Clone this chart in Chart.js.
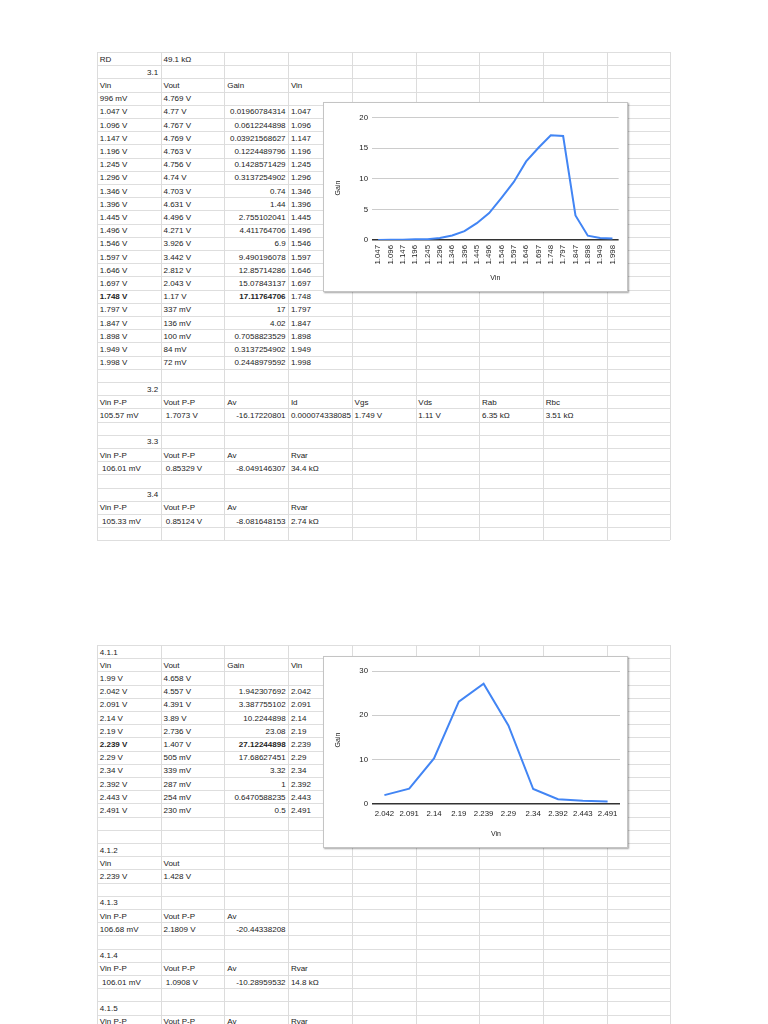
<!DOCTYPE html>
<html>
<head>
<meta charset="utf-8">
<script src="https://cdn.jsdelivr.net/npm/chart.js@4.4.1/dist/chart.umd.min.js"></script>
<style>
  html, body { margin:0; padding:0; background:#fff; }
  body { width:768px; height:1024px; position:relative; overflow:hidden;
         font-family:"Liberation Sans", Arial, sans-serif; }
  .grid { position:absolute; left:0; top:0; width:768px; }
  .hl { position:absolute; height:1px; background:#dedede; }
  .vl { position:absolute; width:1px; background:#dcdcdc; }
  .cell { position:absolute; white-space:pre; font-size:8px; color:#222; overflow:visible; }
  .cell.b { font-weight:bold; }
  .box { position:absolute; box-sizing:border-box; background:#fff; border:1px solid #c4c4c4;
         box-shadow:1px 1px 1.5px rgba(0,0,0,0.35); z-index:5; }
  .box canvas { position:absolute; left:0; top:0; }
</style>
</head>
<body>
<script>
// ---------- data: section 3.1 ----------
const vin31   = ["996 mV","1.047 V","1.096 V","1.147 V","1.196 V","1.245 V","1.296 V","1.346 V","1.396 V","1.445 V","1.496 V","1.546 V","1.597 V","1.646 V","1.697 V","1.748 V","1.797 V","1.847 V","1.898 V","1.949 V","1.998 V"];
const vout31  = ["4.769 V","4.77 V","4.767 V","4.769 V","4.763 V","4.756 V","4.74 V","4.703 V","4.631 V","4.496 V","4.271 V","3.926 V","3.442 V","2.812 V","2.043 V","1.17 V","337 mV","136 mV","100 mV","84 mV","72 mV"];
const vinAxis31 = ["1.047","1.096","1.147","1.196","1.245","1.296","1.346","1.396","1.445","1.496","1.546","1.597","1.646","1.697","1.748","1.797","1.847","1.898","1.949","1.998"];
const gain31  = [0.01960784314,0.0612244898,0.03921568627,0.1224489796,0.1428571429,0.3137254902,0.74,1.44,2.755102041,4.411764706,6.9,9.490196078,12.85714286,15.07843137,17.11764706,17,4.02,0.7058823529,0.3137254902,0.2448979592];
const yTicks31 = [0,5,10,15,20];

// ---------- data: section 4.1.1 ----------
const vin41   = ["1.99 V","2.042 V","2.091 V","2.14 V","2.19 V","2.239 V","2.29 V","2.34 V","2.392 V","2.443 V","2.491 V"];
const vout41  = ["4.658 V","4.557 V","4.391 V","3.89 V","2.736 V","1.407 V","505 mV","339 mV","287 mV","254 mV","230 mV"];
const vinAxis41 = ["2.042","2.091","2.14","2.19","2.239","2.29","2.34","2.392","2.443","2.491"];
const gain41  = [1.942307692,3.387755102,10.2244898,23.08,27.12244898,17.68627451,3.32,1,0.6470588235,0.5];
const yTicks41 = [0,10,20,30];

// ---------- layout ----------
const COL_X0 = 97, COL_W = 63.7, NCOL = 9, ROW_H = 13.2, PAGE_H = 1024;
const FONT = '"Liberation Sans", Arial, sans-serif';

const R = t => ({t, r:true});
const B = t => ({t, b:true});
const RB = t => ({t, r:true, b:true});

function dataRows(vin, vout, vinAxis, gain) {
  const peak = gain.indexOf(Math.max(...gain));
  const rows = [[vin[0], vout[0]]];
  for (let i = 0; i < gain.length; i++) {
    const isPeak = i === peak;
    rows.push([isPeak ? B(vin[i+1]) : vin[i+1], vout[i+1], isPeak ? RB(String(gain[i])) : R(String(gain[i])), vinAxis[i]]);
  }
  return rows;
}

const topRows = [
  ["RD","49.1 kΩ"],
  [R("3.1")],
  ["Vin","Vout","Gain","Vin"],
  ...dataRows(vin31, vout31, vinAxis31, gain31),
  [],
  [R("3.2")],
  ["Vin P-P","Vout P-P","Av","Id","Vgs","Vds","Rab","Rbc"],
  ["105.57 mV"," 1.7073 V",R("-16.17220801"),"0.000074338085","1.749 V","1.11 V","6.35 kΩ","3.51 kΩ"],
  [],
  [R("3.3")],
  ["Vin P-P","Vout P-P","Av","Rvar"],
  [" 106.01 mV"," 0.85329 V",R("-8.049146307"),"34.4 kΩ"],
  [],
  [R("3.4")],
  ["Vin P-P","Vout P-P","Av","Rvar"],
  [" 105.33 mV"," 0.85124 V",R("-8.081648153"),"2.74 kΩ"],
  []
];

const bottomRows = [
  ["4.1.1"],
  ["Vin","Vout","Gain","Vin"],
  ...dataRows(vin41, vout41, vinAxis41, gain41),
  [], [],
  ["4.1.2"],
  ["Vin","Vout"],
  ["2.239 V","1.428 V"],
  [],
  ["4.1.3"],
  ["Vin P-P","Vout P-P","Av"],
  ["106.68 mV","2.1809 V",R("-20.44338208")],
  [],
  ["4.1.4"],
  ["Vin P-P","Vout P-P","Av","Rvar"],
  [" 106.01 mV"," 1.0908 V",R("-10.28959532"),"14.8 kΩ"],
  [],
  ["4.1.5"],
  ["Vin P-P","Vout P-P","Av","Rvar"],
  []
];

function colX(c) { return COL_X0 + COL_W * c; }

function buildGrid(top, rows) {
  const g = document.createElement('div');
  g.className = 'grid';
  const n = rows.length;
  const bottom = Math.min(top + n * ROW_H, PAGE_H + 2);
  for (let k = 0; k <= n; k++) {
    const y = top + k * ROW_H;
    if (y > PAGE_H) break;
    const d = document.createElement('div');
    d.className = 'hl';
    d.style.left = COL_X0 + 'px';
    d.style.width = (COL_W * NCOL) + 'px';
    d.style.top = y + 'px';
    g.appendChild(d);
  }
  for (let c = 0; c <= NCOL; c++) {
    const d = document.createElement('div');
    d.className = 'vl';
    d.style.left = colX(c) + 'px';
    d.style.top = top + 'px';
    d.style.height = (bottom - top) + 'px';
    g.appendChild(d);
  }
  rows.forEach((row, k) => {
    row.forEach((cell, c) => {
      if (cell === null || cell === undefined || cell === '') return;
      const o = typeof cell === 'string' ? {t: cell} : cell;
      const d = document.createElement('div');
      d.className = 'cell' + (o.b ? ' b' : '');
      d.textContent = o.t;
      d.style.top = (top + k * ROW_H + 0.5) + 'px';
      d.style.height = ROW_H + 'px';
      d.style.lineHeight = ROW_H + 'px';
      if (o.r) {
        d.style.left = colX(c) + 'px';
        d.style.width = (COL_W - 2.5) + 'px';
        d.style.textAlign = 'right';
      } else {
        d.style.left = (colX(c) + 2.8) + 'px';
      }
      g.appendChild(d);
    });
  });
  document.body.appendChild(g);
}

buildGrid(52, topRows);
buildGrid(645, bottomRows);

// ---------- charts ----------
const yTitlePlugin = {
  id: 'yTitleAt',
  afterDraw(chart, args, opts) {
    const ctx = chart.ctx;
    ctx.save();
    ctx.translate(opts.x, opts.y);
    ctx.rotate(-Math.PI / 2);
    ctx.font = '7px ' + FONT;
    ctx.fillStyle = '#222';
    ctx.textAlign = 'center';
    ctx.textBaseline = 'middle';
    ctx.fillText(opts.text, 0, 0);
    ctx.restore();
  }
};

function makeBox(left, top, w, h) {
  const box = document.createElement('div');
  box.className = 'box';
  box.style.left = left + 'px';
  box.style.top = top + 'px';
  box.style.width = w + 'px';
  box.style.height = h + 'px';
  const cv = document.createElement('canvas');
  cv.width = w - 2; cv.height = h - 2;
  cv.style.width = (w - 2) + 'px'; cv.style.height = (h - 2) + 'px';
  box.appendChild(cv);
  document.body.appendChild(box);
  return cv;
}

function makeChart(cv, labels, values, ticks, cfg) {
  return new Chart(cv, {
    type: 'line',
    data: {
      labels: labels,
      datasets: [{ data: values, borderColor: '#4285f4', borderWidth: 2, pointRadius: 0,
                   pointHoverRadius: 0, tension: 0, fill: false }]
    },
    options: {
      responsive: false, animation: false, maintainAspectRatio: false,
      layout: { padding: { left: 0, right: cfg.padRight, top: cfg.padTop, bottom: 0 } },
      plugins: {
        legend: { display: false },
        tooltip: { enabled: false },
        yTitleAt: { text: 'Gain', x: cfg.yTitleX, y: cfg.yTitleY }
      },
      scales: {
        x: {
          type: 'category', offset: true,
          grid: { display: false, drawTicks: false },
          border: { display: false },
          ticks: { autoSkip: false, minRotation: cfg.rot, maxRotation: cfg.rot, padding: cfg.xTickPad,
                   color: '#222', font: { size: 7.8, family: FONT } },
          title: { display: true, text: 'Vin', color: '#222', font: { size: 7, family: FONT },
                   padding: { top: 0, bottom: cfg.xTitlePad } },
          afterFit: s => { s.height = cfg.xAxisH; }
        },
        y: {
          min: ticks[0], max: ticks[ticks.length - 1],
          afterBuildTicks: s => { s.ticks = ticks.map(v => ({ value: v })); },
          grid: { drawTicks: false,
                  color: c => (c.tick && c.tick.value === 0) ? '#333333' : '#cccccc',
                  lineWidth: c => (c.tick && c.tick.value === 0) ? 1.6 : 1 },
          border: { display: false },
          ticks: { padding: 4, color: '#222', font: { size: 7.8, family: FONT } },
          afterFit: s => { s.width = 48; }
        }
      }
    },
    plugins: [yTitlePlugin]
  });
}

const cv1 = makeBox(323, 102, 305, 190);
makeChart(cv1, vinAxis31, gain31, yTicks31,
  { padTop: 14.7, padRight: 7, rot: 90, xTickPad: 5, xTitlePad: 9, xAxisH: 51, yTitleX: 14, yTitleY: 85 });

const cv2 = makeBox(323, 656, 305, 192);
makeChart(cv2, vinAxis41, gain41, yTicks41,
  { padTop: 14, padRight: 7, rot: 0, xTickPad: 5, xTitlePad: 9, xAxisH: 43.3, yTitleX: 14, yTitleY: 83 });
</script>
</body>
</html>
